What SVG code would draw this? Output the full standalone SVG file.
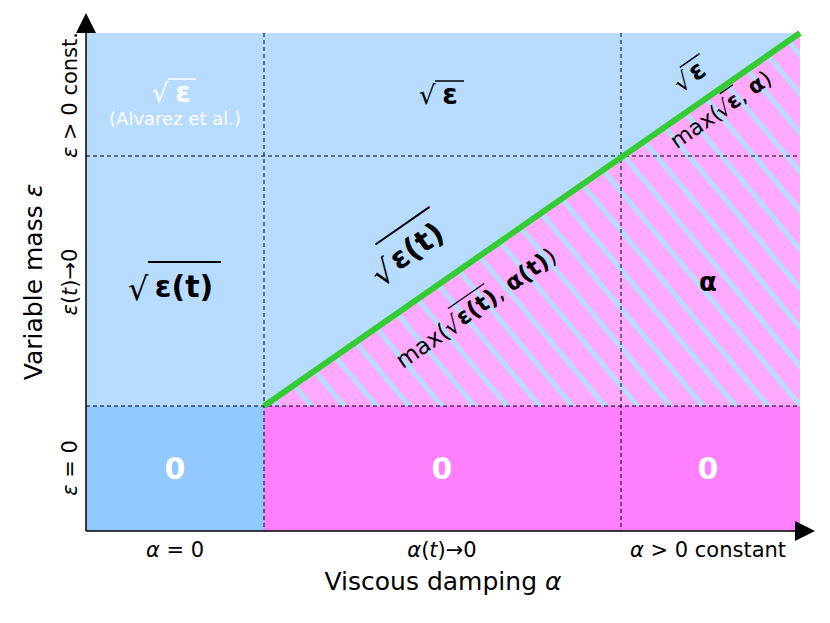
<svg xmlns="http://www.w3.org/2000/svg" width="830" height="623" viewBox="0 0 830 623">
<style>
text{font-family:"DejaVu Sans","Liberation Sans",sans-serif}
.d{stroke:#000;stroke-width:1;stroke-dasharray:4,3;fill:none}
.b{font-weight:bold}
.w{fill:#fff}
.ax{font-size:21px;text-anchor:middle}
.i{font-style:italic}
</style>
<defs>
<pattern id="h" patternUnits="userSpaceOnUse" width="25" height="25" patternTransform="rotate(-40)">
<rect width="25" height="25" fill="#ffaaff"/>
<rect width="5" height="25" fill="#b8dcff"/>
</pattern>
<marker id="a" markerWidth="20" markerHeight="20" refX="4" refY="8" orient="auto" markerUnits="userSpaceOnUse" viewBox="0 0 16 16"><path d="M0,0L16,8L0,16z" fill="#000"/></marker>
</defs>
<g id="regions">
<rect x="86" y="33" width="714" height="373" fill="#b8dcff"/>
<polygon points="264,406 800,33 800,406" fill="url(#h)"/>
<rect x="86" y="406" width="178" height="125" fill="#90c8ff"/>
<rect x="264" y="406" width="536" height="125" fill="#ff80ff"/>
</g>
<g id="grid">
<line class="d" x1="264" y1="33" x2="264" y2="531"/>
<line class="d" x1="621" y1="33" x2="621" y2="531"/>
<line class="d" x1="86" y1="156" x2="800" y2="156"/>
<line class="d" x1="86" y1="406" x2="800" y2="406"/>
</g>
<g id="connectors">
<line x1="264" y1="406" x2="800" y2="33" stroke="#33cc33" stroke-width="6"/>
<line x1="86" y1="531" x2="86" y2="28" stroke="#000" stroke-width="1.5" marker-end="url(#a)"/>
<line x1="86" y1="531" x2="800" y2="531" stroke="#000" stroke-width="1.5" marker-end="url(#a)"/>
</g>
<g id="cell-tl">
<text x="152" y="102" class="w" font-size="26">√</text><line x1="168" y1="79" x2="196" y2="79" stroke="#fff" stroke-width="1.5"/>
<text x="183" y="102" class="w b" font-size="28" text-anchor="middle">ε</text>
<text x="175" y="125" class="w" font-size="18" text-anchor="middle">(Alvarez et al.)</text>
</g>
<g id="cell-tm">
<text x="419" y="104" font-size="26">√</text><line x1="435" y1="81" x2="464" y2="81" stroke="#000" stroke-width="1.5"/>
<text x="450" y="104" class="b" font-size="28" text-anchor="middle">ε</text>
</g>
<g id="cell-ml">
<text x="128" y="300" font-size="32">√</text><line x1="148" y1="262" x2="221" y2="262" stroke="#000" stroke-width="2"/>
<text x="184" y="297" class="b" font-size="30" text-anchor="middle">ε(t)</text>
</g>
<g id="cell-mm" transform="translate(405,252) rotate(-34.8)">
<text x="-40" y="16" font-size="32">√</text><line x1="-20" y1="-23" x2="46" y2="-23" stroke="#000" stroke-width="2"/>
<text x="13" y="12" class="b" font-size="30" text-anchor="middle">ε(t)</text>
</g>
<g id="cell-mm2" transform="translate(478,306) rotate(-34.8)">
<text x="-98" y="9" font-size="23">max(</text>
<text x="-40" y="10" font-size="24">√</text>
<line x1="-26" y1="-15" x2="18" y2="-15" stroke="#000" stroke-width="1.3"/>
<text x="-24" y="8" font-size="23"><tspan class="b">ε(t)</tspan>, <tspan class="b">α(t)</tspan>)</text>
</g>
<g id="cell-mr"><text x="708" y="291" class="b" font-size="26" text-anchor="middle">α</text></g>
<g id="cell-tr" transform="translate(690,75) rotate(-34.8)">
<text x="-18" y="10" font-size="24">√</text><line x1="-4" y1="-12" x2="20" y2="-12" stroke="#000" stroke-width="1.5"/>
<text x="8" y="9" class="b" font-size="26" text-anchor="middle">ε</text>
</g>
<g id="cell-tr2" transform="translate(728,104) rotate(-34.8)">
<text x="-68" y="8" font-size="22">max(</text>
<text x="-14" y="9" font-size="22">√</text>
<line x1="-1" y1="-13" x2="15" y2="-13" stroke="#000" stroke-width="1.3"/>
<text x="0" y="8" font-size="22"><tspan class="b">ε</tspan>, <tspan class="b">α</tspan>)</text>
</g>
<g id="zeros" class="w b" font-size="30" text-anchor="middle">
<text x="175" y="479">0</text><text x="442" y="479">0</text><text x="708" y="479">0</text>
</g>
<g id="xlabels">
<text x="175" y="557" class="ax"><tspan class="i">α</tspan> = 0</text>
<text x="442" y="557" class="ax"><tspan class="i">α</tspan>(<tspan class="i">t</tspan>)→0</text>
<text x="708" y="557" class="ax"><tspan class="i">α</tspan> &gt; 0 constant</text>
<text x="443" y="590" font-size="25" text-anchor="middle">Viscous damping <tspan class="i">α</tspan></text>
</g>
<g id="ylabels">
<text transform="translate(77,95) rotate(-90)" class="ax"><tspan class="i">ε</tspan> &gt; 0 const.</text>
<text transform="translate(77,282) rotate(-90)" class="ax"><tspan class="i">ε</tspan>(<tspan class="i">t</tspan>)→0</text>
<text transform="translate(77,468) rotate(-90)" class="ax"><tspan class="i">ε</tspan> = 0</text>
<text transform="translate(42,282) rotate(-90)" font-size="25" text-anchor="middle">Variable mass <tspan class="i">ε</tspan></text>
</g>
</svg>
